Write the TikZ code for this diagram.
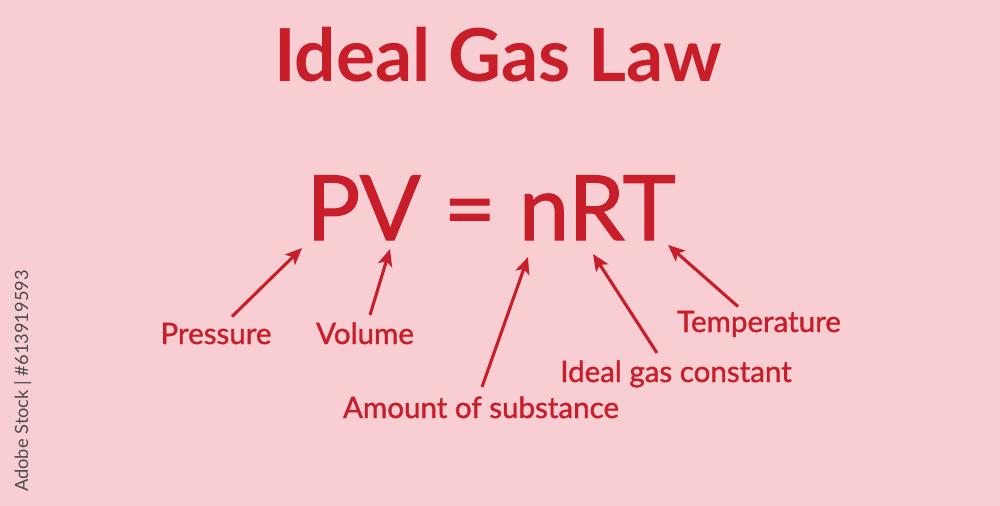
\documentclass[tikz,border=0pt]{standalone}
\usepackage{fontspec}
\setmainfont{Lato}
\newfontfamily\medfont[FakeBold=1.2]{Lato}
\usetikzlibrary{arrows.meta}
\definecolor{gasred}{RGB}{200,30,42}
\definecolor{gasbg}{RGB}{249,206,211}
\tikzset{
  lbl/.style={text=gasred, font=\medfont\fontsize{21}{24}\selectfont, inner sep=0pt, anchor=base},
  arr/.style={draw=gasred, line width=2.2pt, -{Stealth[length=0.42cm, width=0.36cm, inset=0.1cm]}}
}
\begin{document}
\begin{tikzpicture}[x=0.025cm, y=-0.025cm]
    % Fondo
    \fill[gasbg] (0,0) rectangle (1000,506);
    % Titulo y ecuacion
    \node[lbl, font=\fontsize{52}{60}\selectfont\bfseries] (title) at (498,81) {Ideal Gas Law};
    \node[lbl, font=\medfont\fontsize{64}{72}\selectfont] (eq) at (491,240) {PV = nRT};
    % Etiquetas
    \node[lbl] (pres) at (216,344) {Pressure};
    \node[lbl] (vol) at (365,344) {Volume};
    \node[lbl] (amount) at (481,418) {Amount of substance};
    \node[lbl] (gasconst) at (676,382) {Ideal gas constant};
    \node[lbl] (temp) at (759,332) {Temperature};
    % Puntas
    \coordinate (tipP) at (302,248);
    \coordinate (tipV) at (390,249);
    \coordinate (tipN) at (528,257);
    \coordinate (tipR) at (593,254);
    \coordinate (tipT) at (668,245);
    % Flechas
    \draw[arr] ([shift={(16,-6)}]pres.north) -- (tipP);
    \draw[arr] ([shift={(5,-7)}]vol.north) -- (tipV);
    \draw[arr] ([shift={(1,-9)}]amount.north) -- (tipN);
    \draw[arr] ([shift={(-19,-7)}]gasconst.north) -- (tipR);
    \draw[arr] ([shift={(-21,-4)}]temp.north) -- (tipT);
    % Marca
    \node[rotate=90, anchor=base, inner sep=0pt, text=black!70, font=\fontsize{13}{15}\selectfont] (stock) at (28,381) {Adobe Stock | \#613919593};
\end{tikzpicture}
\end{document}
